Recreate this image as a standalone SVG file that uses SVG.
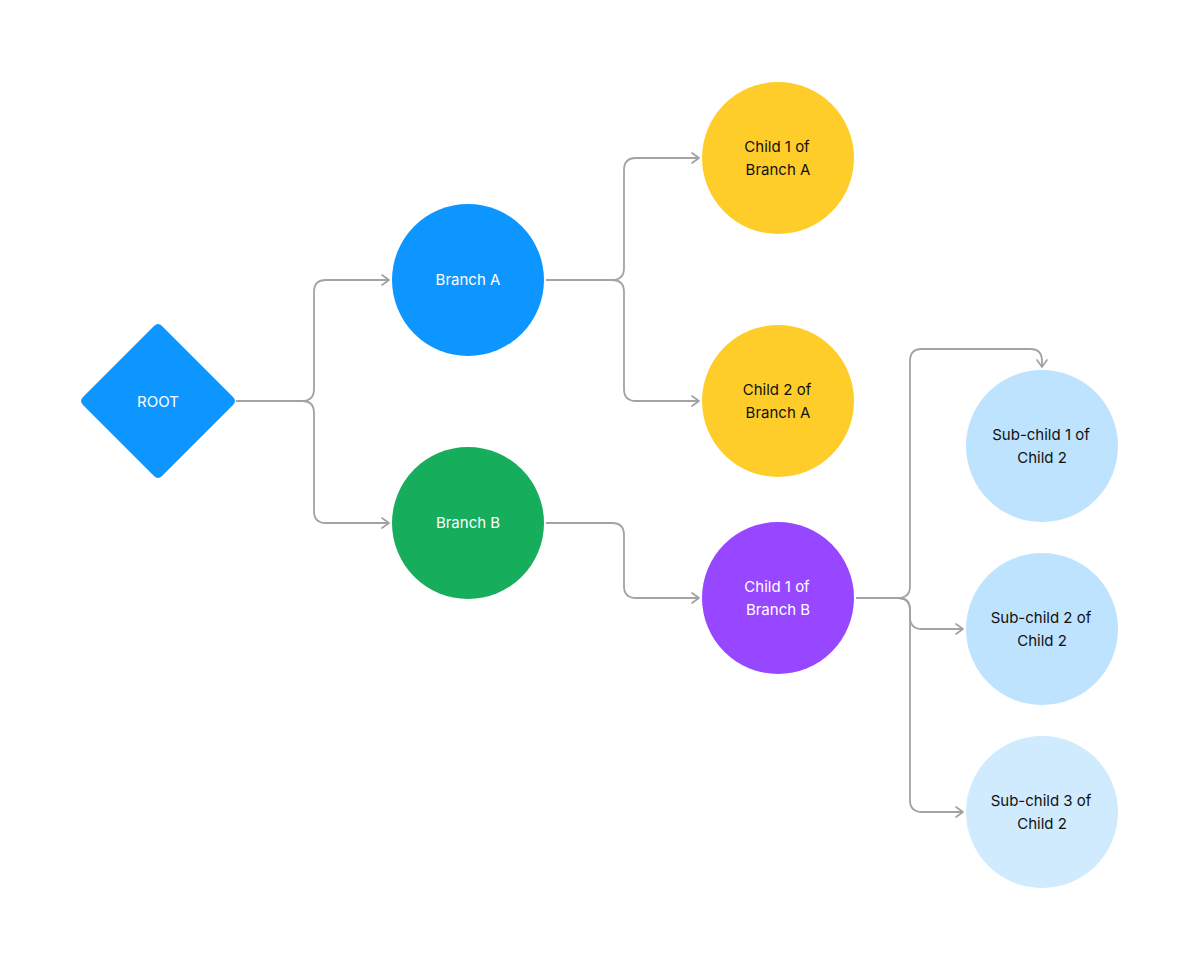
<svg xmlns="http://www.w3.org/2000/svg" width="1200" height="970" viewBox="0 0 1200 970">
<defs>
<marker id="arr" viewBox="0 0 12 12" refX="10" refY="6" markerWidth="12" markerHeight="12" markerUnits="userSpaceOnUse" orient="auto">
<path d="M3,1 L10,6 L3,11" fill="none" stroke="#a0a0a0" stroke-width="1.6" stroke-linecap="round" stroke-linejoin="round"/>
</marker>
<style>
.lbl{font-family:Inter,"Liberation Sans",sans-serif;font-size:15px;text-anchor:middle}
.w{fill:#ffffff}
.d{fill:#111111}
.conn path{fill:none;stroke:#a3a3a3;stroke-width:1.8;marker-end:url(#arr)}
</style>
</defs>
<rect width="1200" height="970" fill="#ffffff"/>
<g class="conn" id="connectors">
<path d="M236,401 H302 Q314,401 314,389 V292 Q314,280 326,280 H389"/>
<path d="M236,401 H302 Q314,401 314,413 V511 Q314,523 326,523 H389"/>
<path d="M546,280 H612 Q624,280 624,268 V170 Q624,158 636,158 H699"/>
<path d="M546,280 H612 Q624,280 624,292 V389 Q624,401 636,401 H699"/>
<path d="M546,523 H612 Q624,523 624,535 V586 Q624,598 636,598 H699"/>
<path d="M856,598 H898 Q910,598 910,586 V361 Q910,349 922,349 H1030 Q1042,349 1042,361 V367"/>
<path d="M856,598 H898 Q910,598 910,610 V617 Q910,629 922,629 H963"/>
<path d="M856,598 H898 Q910,598 910,610 V800 Q910,812 922,812 H963"/>
</g>
<g id="root">
<path d="M154,326 Q158,322 162,326 L233,397 Q237,401 233,405 L162,476 Q158,480 154,476 L83,405 Q79,401 83,397 Z" fill="#0d96ff"/>
<text class="lbl w" x="158" y="407">ROOT</text>
</g>
<g id="branchA">
<circle cx="468" cy="280" r="76" fill="#0d96ff"/>
<text class="lbl w" x="468" y="285">Branch A</text>
</g>
<g id="branchB">
<circle cx="468" cy="523" r="76" fill="#16ad5c"/>
<text class="lbl w" x="468" y="528">Branch B</text>
</g>
<g id="child1A">
<circle cx="778" cy="158" r="76" fill="#ffcd29"/>
<text class="lbl d" x="777" y="152">Child 1 of</text>
<text class="lbl d" x="778" y="175">Branch A</text>
</g>
<g id="child2A">
<circle cx="778" cy="401" r="76" fill="#ffcd29"/>
<text class="lbl d" x="777" y="395">Child 2 of</text>
<text class="lbl d" x="778" y="418">Branch A</text>
</g>
<g id="child1B">
<circle cx="778" cy="598" r="76" fill="#9747ff"/>
<text class="lbl w" x="777" y="592">Child 1 of</text>
<text class="lbl w" x="778" y="615">Branch B</text>
</g>
<g id="sub1">
<circle cx="1042" cy="446" r="76" fill="#bde3ff"/>
<text class="lbl d" x="1041" y="440">Sub-child 1 of</text>
<text class="lbl d" x="1042" y="463">Child 2</text>
</g>
<g id="sub2">
<circle cx="1042" cy="629" r="76" fill="#bde3ff"/>
<text class="lbl d" x="1041" y="623">Sub-child 2 of</text>
<text class="lbl d" x="1042" y="646">Child 2</text>
</g>
<g id="sub3">
<circle cx="1042" cy="812" r="76" fill="#d0eafe"/>
<text class="lbl d" x="1041" y="806">Sub-child 3 of</text>
<text class="lbl d" x="1042" y="829">Child 2</text>
</g>
</svg>
